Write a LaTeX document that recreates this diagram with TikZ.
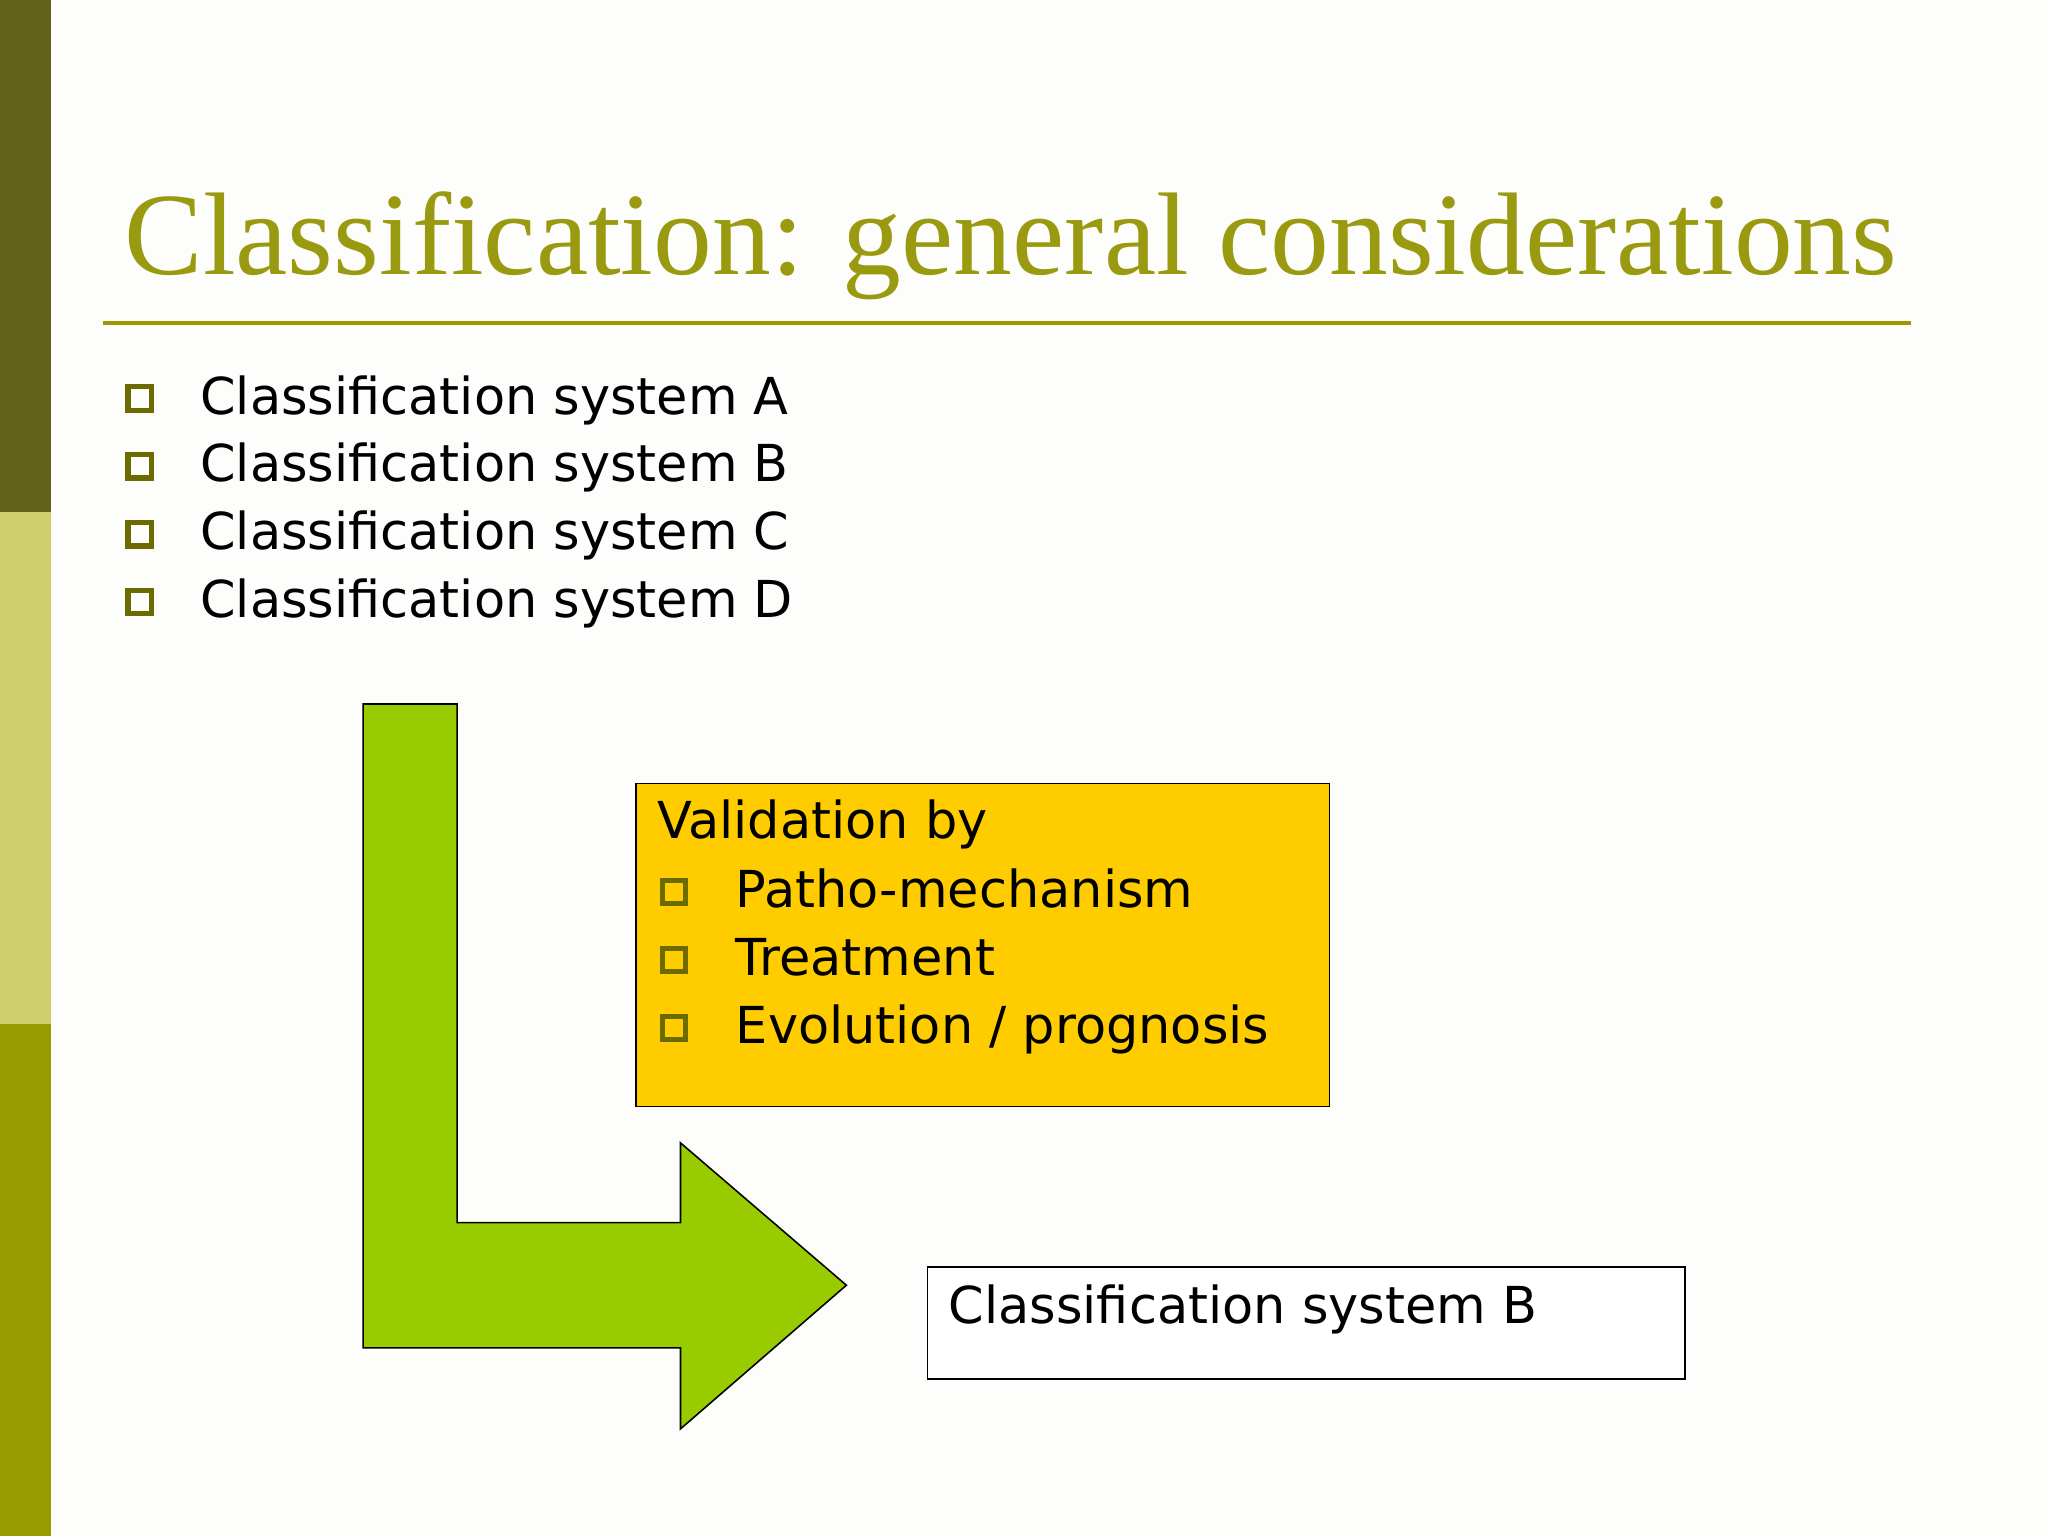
\documentclass[tikz,border=0pt]{standalone}
\usepackage{fontspec}
\setmainfont{DejaVu Sans}
\newfontfamily\titlefont{Liberation Serif}
\definecolor{bg}{HTML}{FDFDFB}
\definecolor{oliveA}{HTML}{62621A}
\definecolor{oliveB}{HTML}{CFCF70}
\definecolor{oliveC}{HTML}{999900}
\definecolor{ttl}{HTML}{9A9A10}
\definecolor{bul}{HTML}{6B6B00}
\definecolor{arrowgreen}{HTML}{99CC00}
\definecolor{boxorange}{HTML}{FFCC00}
\tikzset{
 bulletsq/.style={draw=bul,line width=2pt,minimum size=9pt,inner sep=0pt},
 txt/.style={anchor=base west,inner sep=0pt,font=\fontsize{19.5}{22}\selectfont},
}
\begin{document}
\begin{tikzpicture}[x=0.5pt,y=-0.5pt]
\useasboundingbox (0,0) rectangle (1568,1176);
\fill[bg] (0,0) rectangle (1568,1176);
\fill[oliveA] (0,0) rectangle (39,392);
\fill[oliveB] (0,392) rectangle (39,784);
\fill[oliveC] (0,784) rectangle (39,1176);
\node[anchor=base west,inner sep=0pt,text=ttl,font=\titlefont\fontsize{45}{50}\selectfont] (title) at (95,210) {Classification: general considerations};
\draw[oliveC,line width=1.5pt] (79,247) -- (1463,247);
\foreach \y/\l [count=\i] in {305/A,357/B,409/C,461/D}{
 \node[bulletsq] (b\i) at (107,\y) {};
 \node[txt] (t\i) at (153,\y+12) {Classification system \l};
}
\draw[fill=arrowgreen,line width=0.6pt] (278,539) -- (350,539) -- (350,936) -- (521,936) -- (521,875) -- (648,984) -- (521,1094) -- (521,1032) -- (278,1032) -- cycle;
\draw[fill=boxorange,line width=0.6pt] (487,600) rectangle (1018,847);
\node[txt] (v) at (503,642) {Validation by};
\foreach \y/\l [count=\i] in {683/{Patho-mechanism},735/{Treatment},787/{Evolution / prognosis}}{
 \node[bulletsq] (vb\i) at (516,\y) {};
 \node[txt] (vt\i) at (563,\y+12) {\l};
}
\draw[fill=white,line width=0.6pt] (710,970) rectangle (1290,1056);
\node[txt] (cb) at (726,1013) {Classification system B};
\end{tikzpicture}
\end{document}
